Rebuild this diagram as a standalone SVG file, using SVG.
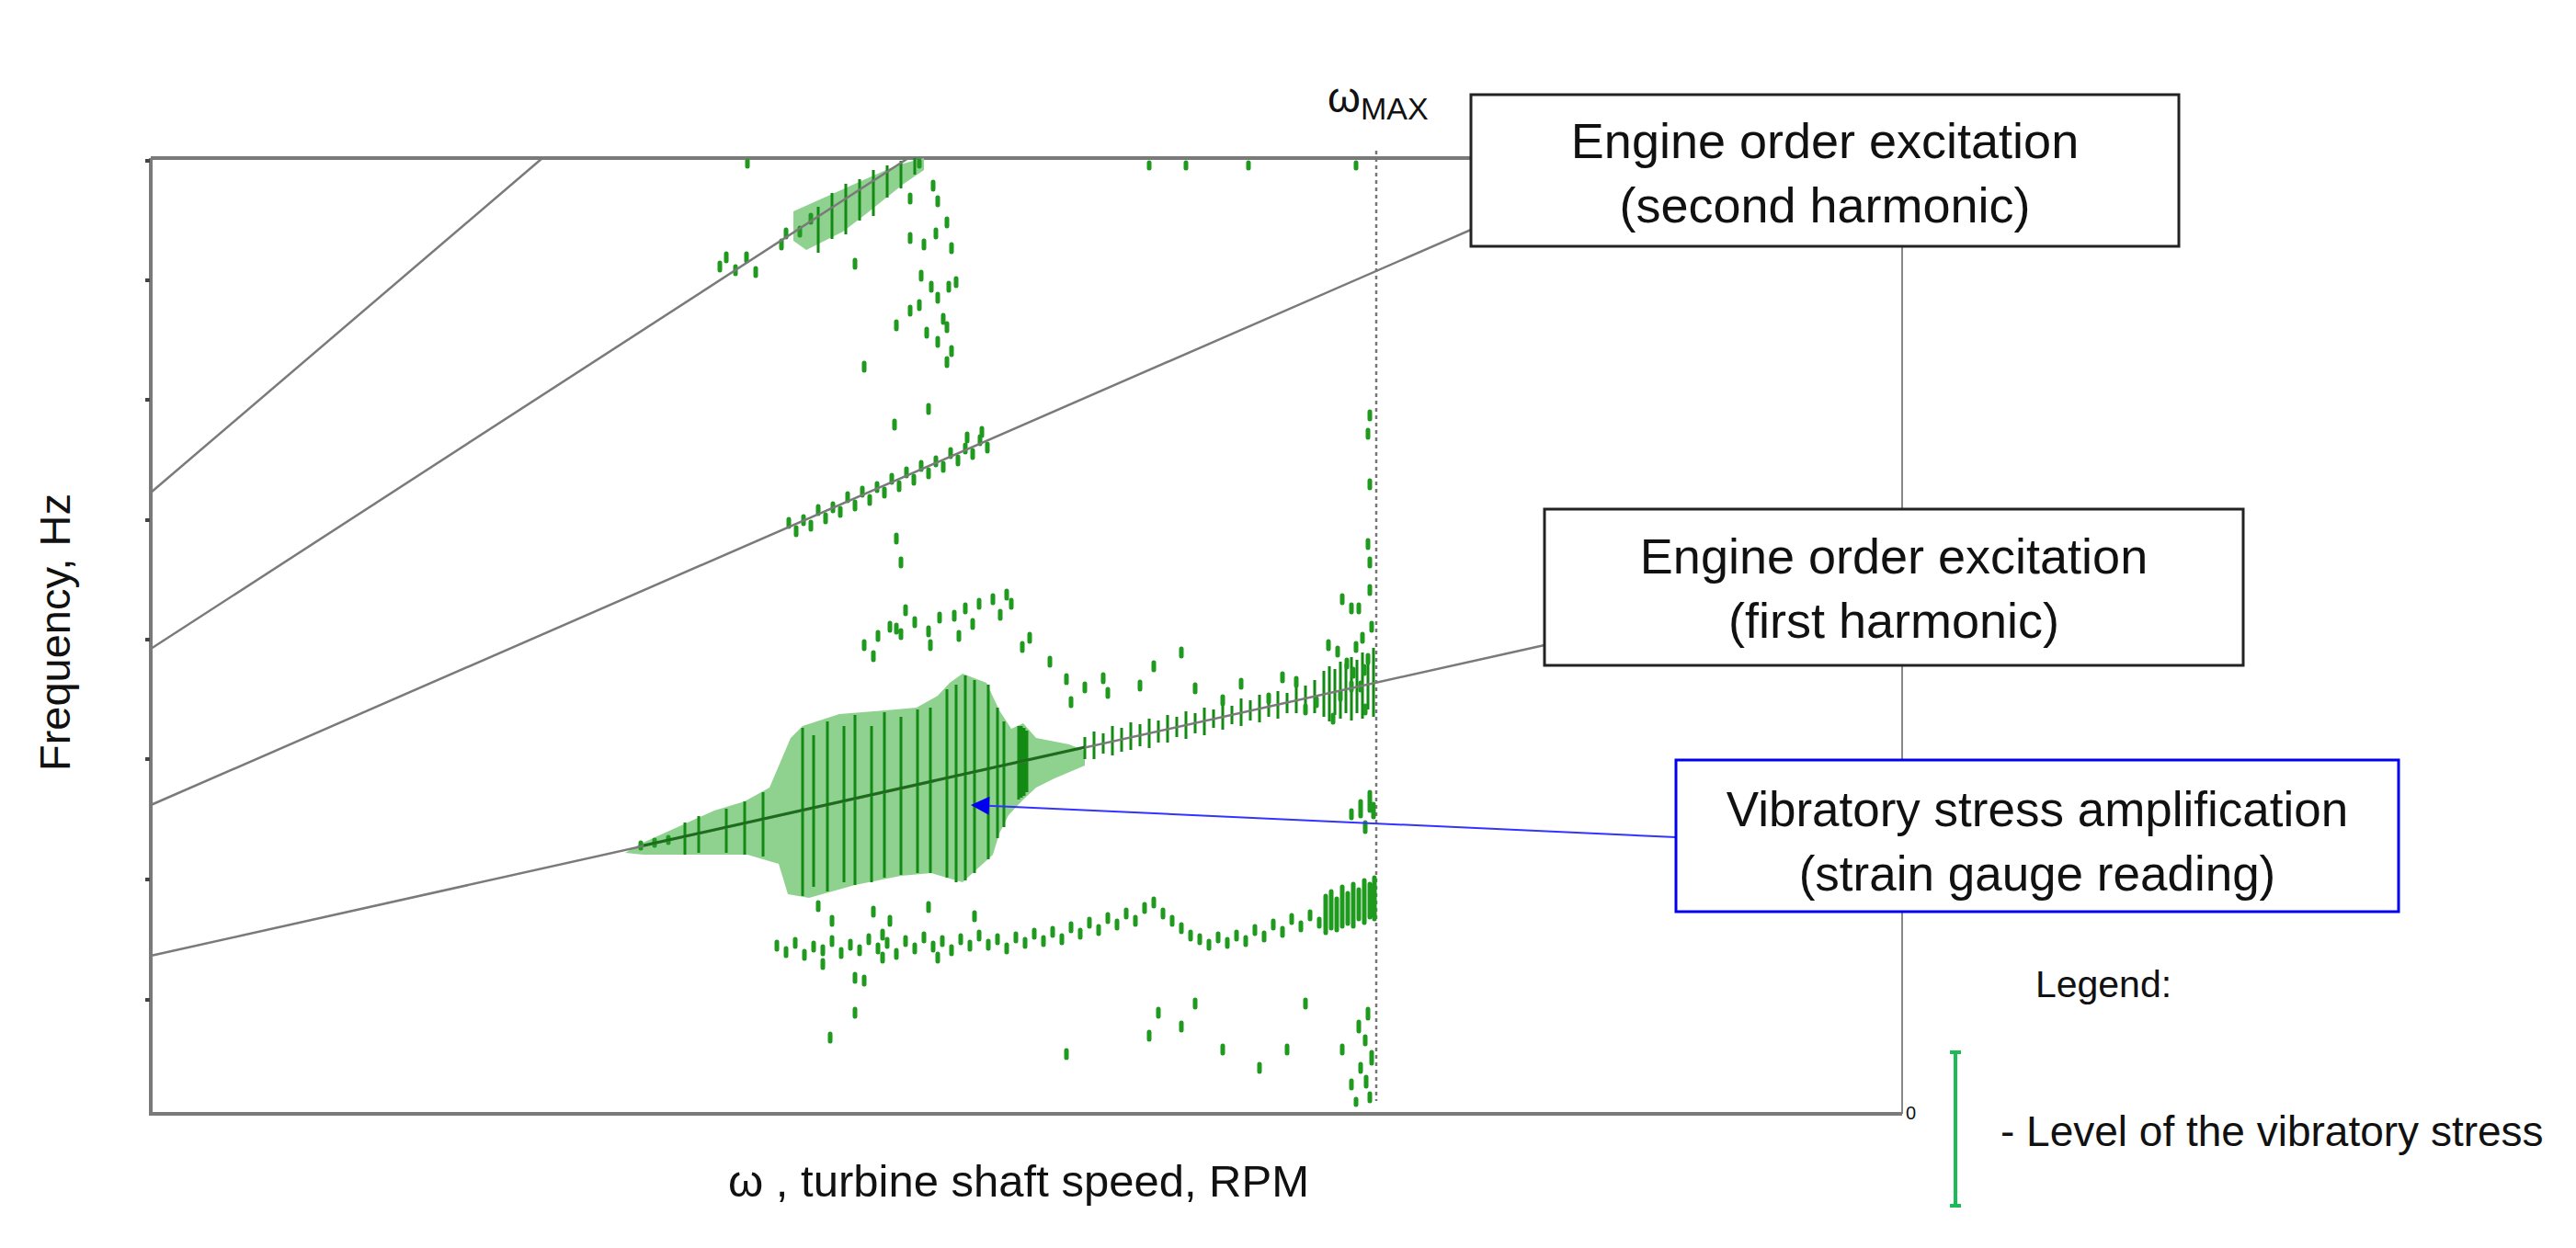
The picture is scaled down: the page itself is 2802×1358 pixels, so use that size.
<svg xmlns="http://www.w3.org/2000/svg" width="2802" height="1358" viewBox="0 0 2802 1358">
<defs>
<style>
.t{font-family:"Liberation Sans",Arial,sans-serif;fill:#111;}
.g{stroke:#7a7a7a;stroke-width:2.5;fill:none;}
.d{stroke:#1f9a1f;stroke-width:5;stroke-linecap:round;fill:none;}
.dk{stroke:#138a13;stroke-width:3;fill:none;}
.box{fill:#fff;stroke:#222;stroke-width:3;}
</style>
<marker id="ah" viewBox="0 0 10 10" refX="9" refY="5" markerWidth="26" markerHeight="20" orient="auto-start-reverse" markerUnits="userSpaceOnUse">
<path d="M0,0 L10,5 L0,10 z" fill="#0000ee"/>
</marker>
</defs>
<rect width="2802" height="1358" fill="#fff"/>

<g id="plot">
<line x1="2069" y1="172" x2="2069" y2="1212" stroke="#888" stroke-width="2"/>
<path d="M164,172 H1600 M164,172 V1212 H2069" stroke="#7a7a7a" stroke-width="4" fill="none"/>
<path d="M158,175 h5 M158,305 h5 M158,435 h5 M158,566 h5 M158,696 h5 M158,826 h5 M158,957 h5 M158,1088 h5" stroke="#444" stroke-width="4"/>
<text class="t" x="2073" y="1218" font-size="20">0</text>
<line x1="1497" y1="164" x2="1497" y2="1198" stroke="#777" stroke-width="2.5" stroke-dasharray="4,4"/>
<text class="t" x="1444" y="122" font-size="46">ω<tspan font-size="34" dy="8">MAX</tspan></text>
</g>

<g id="data">
<path d="M863,230 L930,200 L975,180 L1005,172 L1005,185 L983,200 L943,232 L917,252 L877,272 L863,262 Z" fill="#8fd18f"/>
<path d="M680,928 L697,918 L737,900 L777,882 L810,872 L837,857 L860,803 L873,790 L913,777 L963,773 L997,770 L1020,757 L1033,743 L1047,733 L1073,743 L1087,773 L1100,793 L1113,787 L1127,803 L1163,810 L1180,817 L1180,833 L1147,847 L1127,857 L1113,870 L1097,887 L1087,907 L1080,930 L1047,960 L1013,950 L980,953 L930,963 L880,977 L857,973 L847,940 L813,930 L773,930 L737,930 L700,930 Z" fill="#8fd18f"/>
<path class="dk" d="M873,792 V975 M885,800 V965 M900,785 V970 M918,790 V960 M930,778 V963 M948,790 V960 M962,775 V955 M980,780 V952 M998,772 V950 M1012,770 V950 M1030,750 V955 M1040,745 V960 M1050,735 V958 M1060,740 V950 M1075,745 V935 M1085,770 V912 M1108,790 V870 M1111,790 V868 M1114,792 V866 M1117,795 V862 M1092,785 V900 M790,880 V928 M810,872 V930 M830,862 V932 M760,888 V928 M745,895 V930 M890,225 V275 M905,210 V260 M920,200 V255 M935,195 V240 M950,185 V235 M965,180 V215 M980,175 V205 M995,172 V190"/>
<path class="dk" d="M1180,802V826 M1190,796V826 M1200,798V820 M1210,790V822 M1220,792V818 M1230,786V816 M1240,788V812 M1250,782V814 M1260,784V808 M1270,778V808 M1280,780V802 M1290,774V804 M1300,776V798 M1310,770V800 M1320,772V792 M1330,766V794 M1340,768V788 M1350,760V790 M1360,762V784 M1370,756V786 M1380,758V780 M1390,752V782 M1400,754V776 M1410,748V776 M1420,746V774 M1430,740V776 M1440,730V780 M1446,725V785 M1452,728V778 M1458,720V782 M1464,722V776 M1470,715V784 M1476,718V776 M1482,710V782 M1488,712V772 M1494,705V780"/>
<path class="d" d="M697,917v6 M712,914v6 M727,911v6
M858,565v8 M866,574v8 M874,562v8 M882,568v8 M890,551v8 M898,560v8 M906,548v8 M914,553v8 M922,537v8 M930,546v8 M938,531v8 M946,540v8 M954,526v8 M962,532v8 M970,517v8 M978,525v8 M986,510v8 M994,518v8 M1002,503v8 M1010,511v8 M1018,498v8 M1026,504v8 M1034,489v8 M1042,497v8 M1050,484v8 M1058,490v8 M1066,475v8 M1074,483v8 M1052,472v8 M1068,466v8
M813,175v6 M1000,175v6 M1250,177v6 M1290,177v6 M1358,177v6 M1475,177v6
M783,286v8 M790,276v8 M800,290v8 M812,276v8 M822,292v8 M850,262v8 M855,250v8 M870,248v8 M882,234v8
M990,212v8 M1015,198v8 M1020,215v8 M1030,238v8 M1018,250v8 M1035,266v8 M990,255v8 M1005,262v8 M930,283v8 M1002,296v8 M1013,308v8 M1020,320v8 M1000,328v8 M990,334v8 M1032,308v8 M1026,343v8 M1008,358v8 M1030,352v8 M975,350v8 M1020,368v8 M940,395v8 M1035,378v8 M1040,303v8 M1030,390v8 M1010,441v8 M973,458v8
M975,582v8 M980,608v8 M985,660v8 M975,680v8
M940,698v8 M955,688v8 M968,678v8 M980,686v8 M995,673v8 M1010,683v8 M1022,668v8 M1038,666v8 M1050,658v8 M1065,653v8 M1080,648v8 M1095,643v8 M950,710v8 M1012,698v8 M1043,688v8 M1100,653v8 M1088,665v8 M1058,675v8
M1112,700v8 M1142,716v8 M1180,744v8 M1200,734v8 M1205,750v8 M1240,742v8 M1255,721v8 M1285,706v8 M1330,758v8 M1350,740v8 M1380,756v8 M1395,733v8 M1410,738v8 M1420,768v8 M1432,760v8 M1445,698v8 M1450,778v8 M1458,753v8 M1465,718v8 M1470,743v8 M1480,743v8 M1485,768v8 M1488,713v8 M1492,678v8 M1490,638v8 M1460,648v8 M1470,658v8 M1478,658v8 M1490,608v8 M1488,588v8 M1490,523v8 M1488,468v8 M1490,448v8 M1482,690v8 M1475,700v8 M1484,725v8 M1472,728v8 M1160,735v8 M1165,760v8 M1120,690v8 M1300,745v8 M1455,705v8
M1480,872v16 M1490,862v20 M1485,895v10 M1470,882v8 M1494,875v14
M903,1125v8 M930,1098v8 M940,1063v8 M960,1038v8 M1020,1038v8 M1160,1143v8 M1250,1123v8 M1260,1098v8 M1285,1113v8 M1300,1088v8 M1330,1138v8 M1370,1158v8 M1400,1138v8 M1420,1088v8 M1460,1138v8 M1485,1128v8 M1480,1158v8 M1488,1098v10 M1478,1112v10 M1492,1145v12 M1486,1172v10 M1470,1176v8 M1475,1196v6 M1490,1190v8
M890,982v8 M905,998v8 M950,988v8 M968,998v8 M960,1013v8 M1010,983v8 M1060,993v8 M895,1045v8 M930,1060v8
M845,1025v8 M855,1032v8 M865,1022v8 M875,1035v8 M885,1026v8 M895,1030v8 M905,1020v8 M915,1033v8 M925,1024v8 M935,1030v8 M945,1018v8 M955,1028v8 M965,1022v8 M975,1034v8 M985,1020v8 M995,1028v8 M1005,1016v8 M1015,1026v8 M1025,1020v8 M1035,1030v8 M1045,1018v8 M1055,1025v8 M1065,1014v8 M1075,1024v8 M1085,1018v8 M1095,1028v8 M1105,1016v8 M1115,1022v8 M1125,1012v8 M1135,1020v8 M1145,1010v8 M1155,1018v8 M1165,1005v8 M1175,1012v8 M1185,1000v8 M1195,1008v8 M1205,995v8 M1215,1002v8 M1225,990v8 M1235,998v8 M1245,984v8 M1255,978v8 M1265,990v8 M1275,998v8 M1285,1006v8 M1295,1014v8 M1305,1018v8 M1315,1024v8 M1325,1016v8 M1335,1022v8 M1345,1014v8 M1355,1020v8 M1365,1008v8 M1375,1015v8 M1385,1002v8 M1395,1010v8 M1405,996v8 M1415,1004v8 M1425,992v8 M1435,1000v8
M1442,975V1015 M1448,970V1010 M1454,978V1012 M1460,965V1008 M1466,972V1005 M1472,962V1008 M1478,968V1000 M1484,958V1004 M1490,962V998 M1495,955V1000"/>
</g>

<g id="connectors">
<line class="g" x1="164" y1="1040" x2="1680" y2="702"/>
<line class="g" x1="164" y1="876" x2="1600" y2="250"/>
<line class="g" x1="164" y1="706" x2="988" y2="172"/>
<line class="g" x1="164" y1="536" x2="590" y2="172"/>
<line x1="700" y1="920" x2="1180" y2="813" stroke="#1a6e1a" stroke-width="3"/>
<line x1="1823" y1="911" x2="1058" y2="876" stroke="#3333ff" stroke-width="2" marker-end="url(#ah)"/>
</g>

<g id="box-second">
<rect class="box" x="1600" y="103" width="770" height="165"/>
<text class="t" x="1985" y="172" font-size="54" text-anchor="middle">Engine order excitation</text>
<text class="t" x="1985" y="242" font-size="54" text-anchor="middle">(second harmonic)</text>
</g>
<g id="box-first">
<rect class="box" x="1680" y="554" width="760" height="170"/>
<text class="t" x="2060" y="624" font-size="54" text-anchor="middle">Engine order excitation</text>
<text class="t" x="2060" y="694" font-size="54" text-anchor="middle">(first harmonic)</text>
</g>
<g id="box-vibratory">
<rect x="1823" y="827" width="786" height="165" fill="#fff" stroke="#0000ee" stroke-width="3"/>
<text class="t" x="2216" y="899" font-size="53" text-anchor="middle">Vibratory stress amplification</text>
<text class="t" x="2216" y="969" font-size="53" text-anchor="middle">(strain gauge reading)</text>
</g>

<g id="axes-labels">
<text class="t" x="1108" y="1302" font-size="49" text-anchor="middle">ω , turbine shaft speed, RPM</text>
<text class="t" x="0" y="0" font-size="47" text-anchor="middle" transform="translate(76,688) rotate(-90)">Frequency, Hz</text>
</g>

<g id="legend">
<text class="t" x="2288" y="1085" font-size="41" text-anchor="middle">Legend:</text>
<path d="M2127,1145 V1312 M2121,1145 h12 M2121,1312 h12" stroke="#1dba58" stroke-width="4" fill="none"/>
<text class="t" x="2176" y="1247" font-size="46">- Level of the vibratory stress</text>
</g>
</svg>
